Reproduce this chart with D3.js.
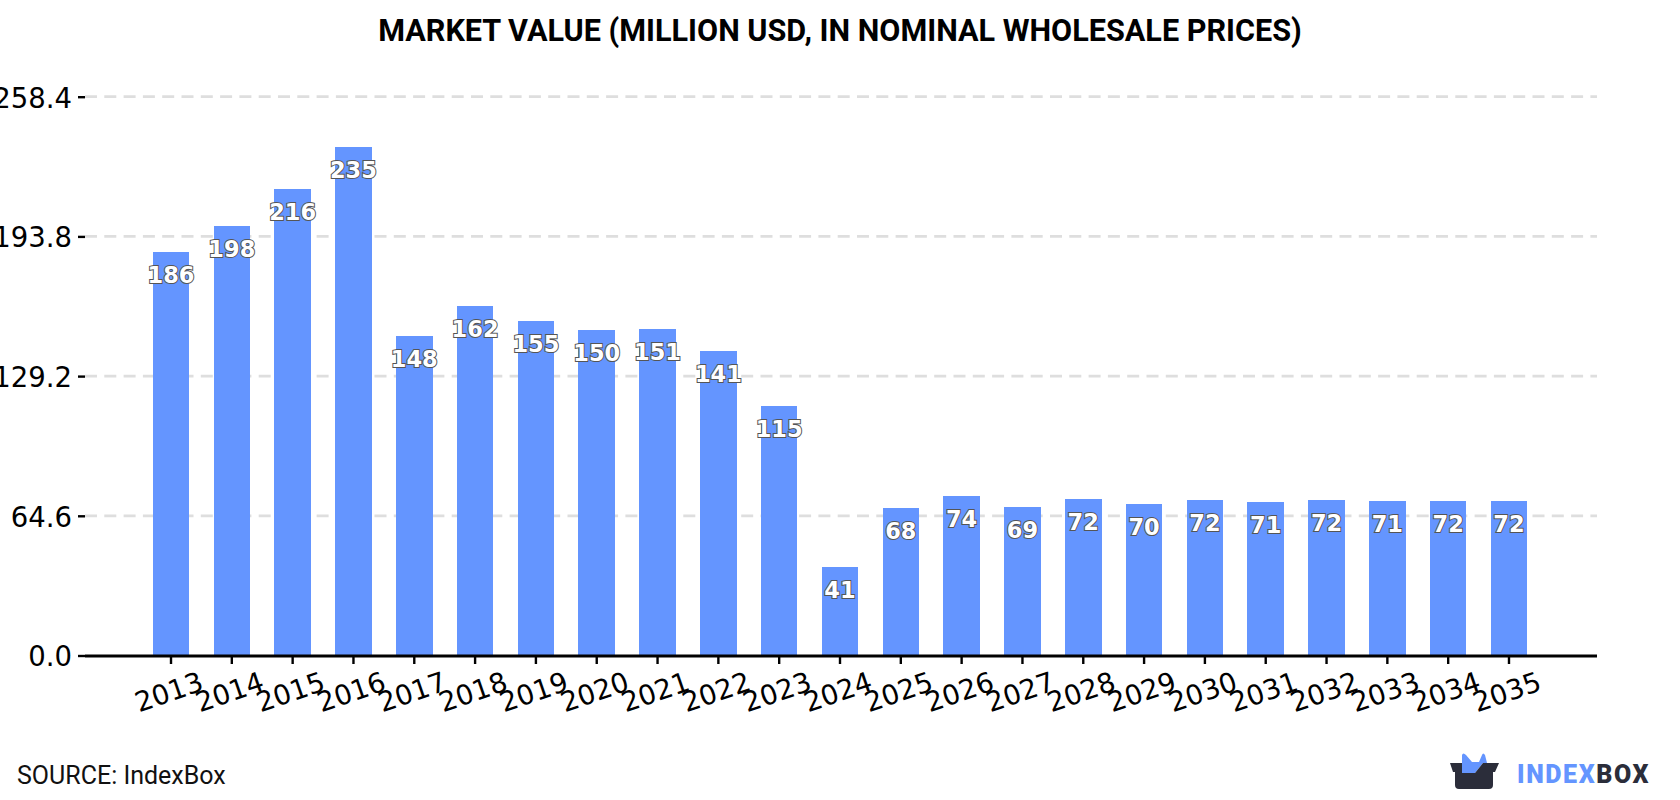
<!DOCTYPE html>
<html>
<head>
<meta charset="utf-8">
<style>
html,body{margin:0;padding:0;background:#fff;}
svg{display:block;}
.tick-label{font-family:"DejaVu Sans";font-size:27.5px;fill:#000;}
.val{font-family:"DejaVu Sans";font-weight:700;font-size:22.5px;fill:#fff;stroke:#555;stroke-width:2px;paint-order:stroke;text-anchor:middle;}
</style>
</head>
<body>
<svg id="chart" width="1680" height="800"></svg>
<script src="https://cdn.jsdelivr.net/npm/d3@7/dist/d3.min.js"></script>
<script>
const years = [2013,2014,2015,2016,2017,2018,2019,2020,2021,2022,2023,2024,2025,2026,2027,2028,2029,2030,2031,2032,2033,2034,2035];
const values = [186.4,198.4,215.7,235.1,147.7,161.6,154.7,150.4,151,140.8,115.4,40.9,68.2,73.8,68.7,72.4,70,71.9,71,71.9,71.4,71.5,71.5];
const yTicks = [0,64.6,129.2,193.8,258.4];
const titleText = "MARKET VALUE (MILLION USD, IN NOMINAL WHOLESALE PRICES)";
const sourceText = "SOURCE: IndexBox";

const svg = d3.select("#chart");
const blue = "#6495ff", dark = "#2b2d3a";

const x = d3.scaleBand().domain(years).range([140.6,1539.4]).paddingInner(0.4).paddingOuter(0.2);
const y = d3.scaleLinear().domain([0,258.4]).range([655.5,96.7]);
const axisLeft = 85, axisRight = 1597;

svg.append("text").attr("x",840).attr("y",41).attr("text-anchor","middle")
  .style("font-family","Roboto").style("font-weight",700).style("font-size","30.6px").text(titleText);

// horizontal grid
svg.append("g").selectAll("line").data(yTicks.slice(1)).join("line")
  .attr("x1",axisLeft).attr("x2",axisRight)
  .attr("y1",d=>y(d)).attr("y2",d=>y(d))
  .attr("stroke","#dedede").attr("stroke-width",2.8).attr("stroke-dasharray","12 7.3");

// bars
svg.append("g").attr("shape-rendering","crispEdges").selectAll("rect").data(values).join("rect")
  .attr("x",(d,i)=>x(years[i])).attr("width",x.bandwidth())
  .attr("y",d=>y(d)).attr("height",d=>y(0)-y(d))
  .attr("fill",blue);

// y axis ticks and labels
const gy = svg.append("g").attr("transform",`translate(${axisLeft},0)`)
  .call(d3.axisLeft(y).tickValues(yTicks).tickFormat(d3.format(".1f")).tickSize(7).tickPadding(6));
gy.select(".domain").remove();
gy.selectAll(".tick line").attr("stroke","#000").attr("stroke-width",2.4);
gy.selectAll("text").attr("class","tick-label").attr("fill",null).attr("dy","0.38em");

// x axis
const gx = svg.append("g").attr("transform",`translate(0,${y(0)+0.5})`)
  .call(d3.axisBottom(x).tickFormat(d3.format("d")).tickSize(8).tickPadding(8));
gx.select(".domain").remove();
gx.append("line").attr("x1",axisLeft).attr("x2",axisRight).attr("stroke","#000").attr("stroke-width",2.8);
gx.selectAll(".tick line").attr("stroke","#000").attr("stroke-width",2.4);
gx.selectAll(".tick text").attr("class","tick-label").attr("fill",null)
  .attr("text-anchor","middle").attr("dy",null)
  .attr("transform","translate(1,45) rotate(-19)").attr("y",0);

// value labels sit inside the top of each bar
svg.append("g").selectAll("text").data(values).join("text")
  .attr("class","val")
  .attr("x",(d,i)=>x(years[i])+x.bandwidth()/2)
  .attr("y",d=>y(d)+31)
  .text(d3.format(".0f"));

svg.append("text").attr("x",17).attr("y",784)
  .style("font-family","Roboto").style("font-size","25px").attr("fill","#111").text(sourceText);

// brand mark
const logo = svg.append("g");
logo.append("path").attr("fill",blue)
  .attr("d","M1462 773 L1462 755 Q1463 752 1466 755 L1472 762 L1479 762 L1482 755 Q1483 752 1485 755 L1487 763 L1483 763 L1475 773 Z");
logo.append("path").attr("fill",dark)
  .attr("d","M1450 763 L1462 763 L1462 773 L1475 773 L1483 763 L1499 763 L1495 772 L1493 772 L1493 785 Q1493 789 1489 789 L1459 789 Q1455 789 1455 785 L1455 772 L1453 772 Z");
const brand = svg.append("text").attr("x",1517).attr("y",783)
  .style("font-family","Roboto").style("font-weight",900).style("font-size","25px").style("letter-spacing","1.6px");
brand.append("tspan").attr("fill",blue).text("INDEX");
brand.append("tspan").attr("fill",dark).text("BOX");
</script>
</body>
</html>
